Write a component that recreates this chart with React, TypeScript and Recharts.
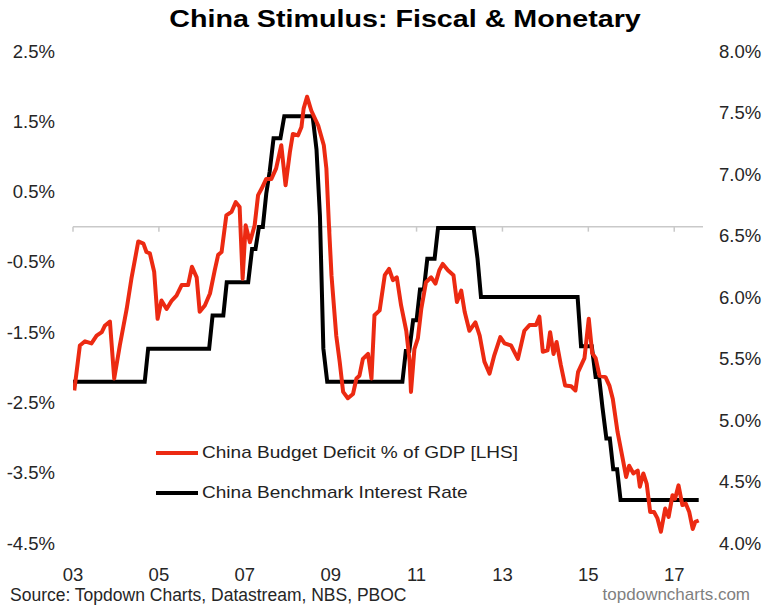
import {
  LineChart,
  Line,
  XAxis,
  YAxis,
  ReferenceLine,
} from 'recharts';

// budget deficit, % of GDP (left axis)
const deficitYears = [
  2003.03, 2003.16, 2003.28, 2003.43, 2003.55, 2003.67, 2003.74, 2003.86, 2003.96,
  2004.09, 2004.25, 2004.36, 2004.52, 2004.64, 2004.71, 2004.79, 2004.89, 2004.97,
  2005.06, 2005.18, 2005.3, 2005.41, 2005.53, 2005.68, 2005.77, 2005.88, 2005.95,
  2006.07, 2006.19, 2006.3, 2006.38, 2006.46, 2006.57, 2006.69, 2006.79, 2006.88, 2006.95,
  2007.02, 2007.12, 2007.23, 2007.31, 2007.39, 2007.5, 2007.62, 2007.73, 2007.85, 2007.95,
  2008.05, 2008.12, 2008.24, 2008.32, 2008.37, 2008.45, 2008.55, 2008.71, 2008.84, 2008.9, 2008.96,
  2009.02, 2009.13, 2009.21, 2009.29, 2009.4, 2009.52, 2009.6, 2009.67, 2009.75, 2009.87, 2009.95,
  2010.02, 2010.14, 2010.26, 2010.36, 2010.45, 2010.54, 2010.64, 2010.76, 2010.84, 2010.87, 2010.95,
  2011.03, 2011.11, 2011.22, 2011.34, 2011.44, 2011.53, 2011.61, 2011.73, 2011.86, 2011.94,
  2012.04, 2012.12, 2012.23, 2012.37, 2012.47, 2012.58, 2012.7, 2012.81, 2012.95,
  2013.05, 2013.2, 2013.36, 2013.51, 2013.63, 2013.78, 2013.86, 2013.94,
  2014.05, 2014.11, 2014.19, 2014.26, 2014.36, 2014.46, 2014.6, 2014.7, 2014.76, 2014.91,
  2015.01, 2015.09, 2015.17, 2015.26, 2015.4, 2015.49, 2015.57, 2015.68, 2015.8, 2015.88, 2015.95,
  2016.05, 2016.15, 2016.2, 2016.28, 2016.36, 2016.44, 2016.53, 2016.61, 2016.69, 2016.79, 2016.87, 2016.96,
  2017.02, 2017.1, 2017.19, 2017.27, 2017.35, 2017.43, 2017.49, 2017.57,
];
const deficitPct = [
  -2.33, -1.69, -1.63, -1.66, -1.55, -1.5, -1.41, -1.35, -2.16,
  -1.69, -1.17, -0.74, -0.21, -0.24, -0.36, -0.38, -0.64, -1.31,
  -1.05, -1.17, -1.05, -0.98, -0.83, -0.83, -0.57, -0.72, -1.21,
  -1.12, -0.95, -0.62, -0.4, -0.36, 0.16, 0.21, 0.35, 0.28, -0.74,
  0.02, -0.22, 0.02, 0.45, 0.54, 0.68, 0.68, 0.83, 1.16, 0.59,
  1.06, 1.32, 1.3, 1.42, 1.68, 1.85, 1.65, 1.44, 1.16, 0.83, 0.02,
  -0.7, -1.55, -1.92, -2.35, -2.44, -2.38, -2.16, -2.12, -1.88, -1.81, -2.16,
  -1.26, -1.19, -0.69, -0.6, -0.76, -0.72, -1.12, -1.48, -1.92, -2.35, -1.74,
  -1.59, -1.17, -0.79, -0.72, -0.81, -0.62, -0.53, -0.62, -0.69, -1.07,
  -0.91, -1.21, -1.48, -1.36, -1.55, -1.92, -2.09, -1.83, -1.57,
  -1.66, -1.69, -1.88, -1.48, -1.4, -1.4, -1.28, -1.78,
  -1.76, -1.5, -1.81, -1.64, -1.97, -2.26, -2.27, -2.33, -2.07, -1.87,
  -1.31, -1.8, -1.87, -2.12, -2.14, -2.26, -2.45, -2.92, -3.3, -3.56, -3.4,
  -3.51, -3.47, -3.7, -3.51, -3.66, -4.06, -4.06, -4.15, -4.34, -4.01, -4.13, -3.82,
  -3.87, -3.68, -3.96, -3.94, -4.06, -4.3, -4.2, -4.18,
];

// benchmark 1y lending rate (right axis)
const rateYears = [
  2003.0, 2004.67, 2004.75, 2006.17, 2006.25, 2006.5, 2006.58, 2007.08, 2007.17,
  2007.25, 2007.33, 2007.42, 2007.5, 2007.58, 2007.67, 2007.83, 2007.92,
  2008.58, 2008.67, 2008.75, 2008.83, 2008.92, 2010.67, 2010.75, 2010.83, 2010.92,
  2011.0, 2011.08, 2011.17, 2011.25, 2011.42, 2011.5, 2012.33, 2012.42, 2012.5,
  2014.75, 2014.83, 2015.08, 2015.17, 2015.25, 2015.33, 2015.42, 2015.5, 2015.58,
  2015.67, 2015.75, 2017.57,
];
const ratePct = [
  5.31, 5.31, 5.58, 5.58, 5.85, 5.85, 6.12, 6.12, 6.39,
  6.39, 6.57, 6.57, 6.84, 7.02, 7.29, 7.29, 7.47,
  7.47, 7.2, 6.66, 5.58, 5.31, 5.31, 5.56, 5.56, 5.81,
  5.81, 6.06, 6.06, 6.31, 6.31, 6.56, 6.56, 6.31, 6.0,
  6.0, 5.6, 5.6, 5.35, 5.35, 5.1, 4.85, 4.85, 4.6,
  4.6, 4.35, 4.35,
];

const xTicks = [2003, 2005, 2007, 2009, 2011, 2013, 2015, 2017];
const leftTicks = [-4.5, -3.5, -2.5, -1.5, -0.5, 0.5, 1.5, 2.5];
const rightTicks = [4, 4.5, 5, 5.5, 6, 6.5, 7, 7.5, 8];

const deficitData = deficitYears.map((t, i) => ({ t, v: deficitPct[i] }));
const rateData = rateYears.map((t, i) => ({ t, v: ratePct[i] }));

const FONT = '"Liberation Sans", Arial, sans-serif';
const RED = '#ec2a12';
const tickStyle = { fill: '#262626', fontSize: 18.5, fontFamily: FONT };

const legendItems = [
  { label: 'China Budget Deficit % of GDP [LHS]', color: RED },
  { label: 'China Benchmark Interest Rate', color: '#000' },
];

export default function App() {
  return (
    <div style={{ position: 'absolute', left: 0, top: 0, width: 768, height: 612, background: '#fff', fontFamily: FONT }}>
      <div
        style={{
          position: 'absolute', left: 0, width: 810, top: 5, textAlign: 'center',
          fontSize: 24.5, fontWeight: 'bold', color: '#000', transform: 'scaleX(1.17)', transformOrigin: '405px 0',
        }}
      >
        China Stimulus: Fiscal &amp; Monetary
      </div>
      <LineChart width={768} height={612} margin={{ top: 51, right: 5, bottom: 39, left: 13 }}>
        <XAxis
          xAxisId="x"
          dataKey="t"
          type="number"
          domain={[2003, 2017.67]}
          ticks={xTicks}
          allowDataOverflow
          axisLine={false}
          tickLine={false}
          height={30}
          tickMargin={19}
          tick={tickStyle}
          tickFormatter={(v) => String(v % 100).padStart(2, '0')}
        />
        <YAxis
          yAxisId="left"
          orientation="left"
          domain={[-4.5, 2.5]}
          ticks={leftTicks}
          width={60}
          axisLine={false}
          tickLine={false}
          tickMargin={12}
          tick={tickStyle}
          tickFormatter={(v) => `${v.toFixed(1)}%`}
        />
        <YAxis
          yAxisId="right"
          orientation="right"
          domain={[4, 8]}
          ticks={rightTicks}
          width={60}
          axisLine={false}
          tickLine={false}
          tickMargin={10}
          tick={tickStyle}
          tickFormatter={(v) => `${v.toFixed(1)}%`}
        />
        <ReferenceLine xAxisId="x" yAxisId="left" y={0} stroke="#c9c9c9" strokeWidth={1.5} />
        {xTicks.map((t) => (
          <ReferenceLine
            key={t}
            xAxisId="x"
            yAxisId="left"
            segment={[{ x: t, y: 0 }, { x: t, y: -0.07 }]}
            stroke="#c9c9c9"
            strokeWidth={1.5}
          />
        ))}
        <Line
          xAxisId="x"
          yAxisId="right"
          data={rateData}
          dataKey="v"
          type="linear"
          stroke="#000"
          strokeWidth={4}
          dot={false}
          isAnimationActive={false}
        />
        <Line
          xAxisId="x"
          yAxisId="left"
          data={deficitData}
          dataKey="v"
          type="linear"
          stroke={RED}
          strokeWidth={4}
          strokeLinejoin="round"
          dot={false}
          isAnimationActive={false}
        />
      </LineChart>
      <div style={{ position: 'absolute', left: 156, top: 433, fontSize: 17, color: '#222' }}>
        {legendItems.map((it) => (
          <div key={it.label} style={{ display: 'flex', alignItems: 'center', height: 40 }}>
            <span style={{ display: 'inline-block', width: 42, height: 4, background: it.color, marginRight: 4 }} />
            <span style={{ display: 'inline-block', transform: 'scaleX(1.12)', transformOrigin: '0 50%' }}>{it.label}</span>
          </div>
        ))}
      </div>
      <div style={{ position: 'absolute', left: 10, top: 585, fontSize: 17.5, color: '#262626' }}>
        Source: Topdown Charts, Datastream, NBS, PBOC
      </div>
      <div style={{ position: 'absolute', right: 18, top: 585, fontSize: 17, color: '#7f7f7f' }}>
        topdowncharts.com
      </div>
    </div>
  );
}
